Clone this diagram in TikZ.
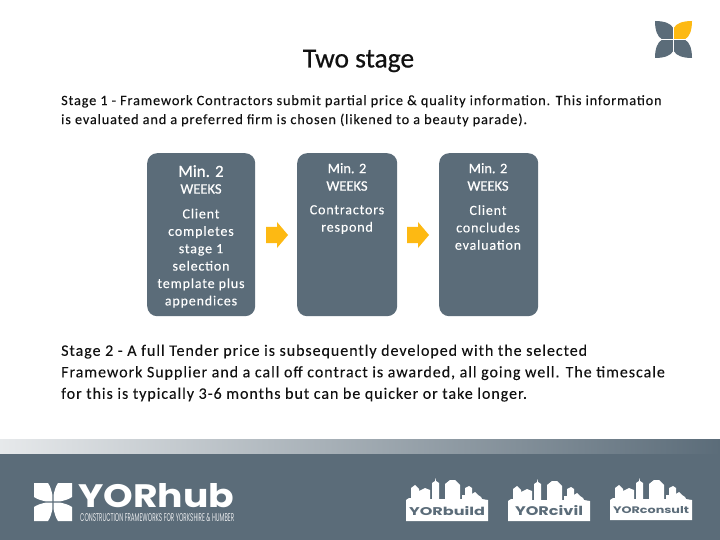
\documentclass[tikz,border=0pt]{standalone}
\usepackage{fontspec}
\usepackage{graphicx}
\setmainfont{Carlito}
\newfontfamily\spaced[LetterSpace=6,FakeBold=0.08]{Carlito}
\newfontfamily\heavy[FakeBold=0.6]{Carlito}
\newfontfamily\logofont{Poppins}
\definecolor{slate}{HTML}{5B6C79}
\definecolor{amber}{HTML}{FDB913}
\definecolor{ink}{HTML}{111111}
\tikzset{
  x=1pt,y=-1pt,
  panel/.style={fill=slate,rounded corners=10pt,inner sep=0pt,minimum height=163pt,anchor=north west},
  boxtext/.style={text=white,align=center,anchor=north,inner sep=0pt,font=\spaced\fontsize{14}{17.4}\selectfont},
  boxhead/.style={text=white,align=center,anchor=north,inner sep=0pt,font=\heavy\fontsize{14.5}{17.5}\selectfont},
  para/.style={text=ink,align=left,anchor=north west,inner sep=0pt},
  flow/.style={fill=amber},
  tower/.style={fill=white},
  logotext/.style={inner sep=0pt,text=slate,font=\logofont\bfseries}
}
\newcommand{\towerpath}[1]{(0,22) -- (3,20) -- (5,20) -- (5,10) -- (9,7) -- (13,11) -- (13,13) -- (19,10) -- (24,12) -- (24,21) -- (26,21) -- (26,5) -- (29,3) -- (29.5,0) -- (30,3) -- (33,5) -- (33,21) -- (39,21) -- (39,6) -- (44,2) -- (49,2) -- (54,7) -- (54,21) -- (56,21) -- (56,17) -- (59,17) -- (59,10) -- (63,8) -- (66,10) -- (66,16) -- (69,14) -- (72,17) -- (75,19) -- (76,21) -- (82,22) -- (82,#1) -- (0,#1) -- cycle}
\begin{document}
\begin{tikzpicture}
\useasboundingbox (0,0) rectangle (720,540);
\fill[white] (0,0) rectangle (720,540);
% footer
\shade[left color=white!85!slate,right color=slate] (0,439) rectangle (720,454);
\fill[slate] (0,454) rectangle (720,540);
% title
\node[inner sep=0pt,text=ink,font=\heavy\fontsize{27.5}{32}\selectfont] (title) at (358.5,61) {Two stage};
% top-right logo
\begin{scope}[shift={(673.5,39.5)}]
  \foreach \sx/\sy/\c in {-1/-1/slate,1/-1/amber,-1/1/slate,1/1/slate}{
    \fill[\c,xscale=\sx,yscale=\sy] (0.6,0.6) -- (12,0.6) .. controls (16,3) and (18.5,9) .. (18.5,18.5) .. controls (9,18.5) and (3,16) .. (0.6,12) -- cycle;
  }
\end{scope}
% intro
\node[para,font=\spaced\fontsize{14.27}{19}\selectfont] (stageone) at (61,95) {Stage 1 - Framework Contractors submit partial price \& quality information. This information\\is evaluated and a preferred firm is chosen (likened to a beauty parade).};
% panels
\node[panel,minimum width=108pt] (p1) at (147,153) {};
\node[panel,minimum width=100pt] (p2) at (297,153) {};
\node[panel,minimum width=99pt] (p3) at (439,153) {};
% panel 1
\node[boxhead,font=\heavy\fontsize{17}{20}\selectfont] (p1a) at (201,165) {Min. 2};
\node[boxhead] (p1b) at (201,184) {WEEKS};
\node[boxtext] (p1c) at (201,208.5) {Client\\completes\\stage 1\\selection\\template plus\\appendices};
% panel 2
\node[boxhead] (p2a) at (347,163) {Min. 2\\WEEKS};
\node[boxtext] (p2c) at (347,205) {Contractors\\respond};
% panel 3
\node[boxhead] (p3a) at (488,163) {Min. 2\\WEEKS};
\node[boxtext] (p3c) at (488,205) {Client\\concludes\\evaluation};
% arrows
\coordinate (a1) at (266,235);
\coordinate (a2) at (407,235);
\foreach \a in {a1,a2}{
  \fill[flow] ([shift={(0,-8)}]\a) -- ([shift={(11,-8)}]\a) -- ([shift={(11,-13)}]\a) -- ([shift={(22,0)}]\a) -- ([shift={(11,13)}]\a) -- ([shift={(11,8)}]\a) -- ([shift={(0,8)}]\a) -- cycle;
}
% stage 2
\node[para,font=\spaced\fontsize{16}{21.5}\selectfont] (stagetwo) at (61,344.5) {Stage 2 - A full Tender price is subsequently developed with the selected\\Framework Supplier and a call off contract is awarded, all going well. The timescale\\for this is typically 3-6 months but can be quicker or take longer.};
% footer logo
\begin{scope}[shift={(53,502)}]
  \foreach \sx/\sy in {-1/-1,1/-1,-1/1,1/1}{
    \fill[white,xscale=\sx,yscale=\sy] (0.6,0.6) -- (7,0.6) .. controls (12,1.5) and (16,3) .. (19,5) -- (19,19) -- (5,19) .. controls (3,16) and (1.5,12) .. (0.6,7) -- cycle;
  }
\end{scope}
\node[inner sep=0pt,anchor=north west,text=white,font=\logofont\bfseries] (hub) at (78,483) {\resizebox{156pt}{24pt}{YORhub}};
\node[inner sep=0pt,anchor=north west,text=white!85!slate,font=\logofont\fontsize{5}{6}\selectfont] (tag) at (80,513) {\resizebox{154pt}{8pt}{CONSTRUCTION FRAMEWORKS FOR YORKSHIRE \& HUMBER}};
% sector logos
\begin{scope}[shift={(406,478)}]
  \fill[tower] \towerpath{43};
  \node[logotext] (lb) at (41,33) {\resizebox{76pt}{9pt}{YORbuild}};
\end{scope}
\begin{scope}[shift={(508,479)}]
  \fill[tower] \towerpath{42};
  \node[logotext] (lc) at (41,32) {\resizebox{68pt}{10pt}{YORcivil}};
\end{scope}
\begin{scope}[shift={(610,478)}]
  \fill[tower] \towerpath{42};
  \node[logotext] (lo) at (41,32.5) {\resizebox{76pt}{7pt}{YORconsult}};
\end{scope}
\end{tikzpicture}
\end{document}
